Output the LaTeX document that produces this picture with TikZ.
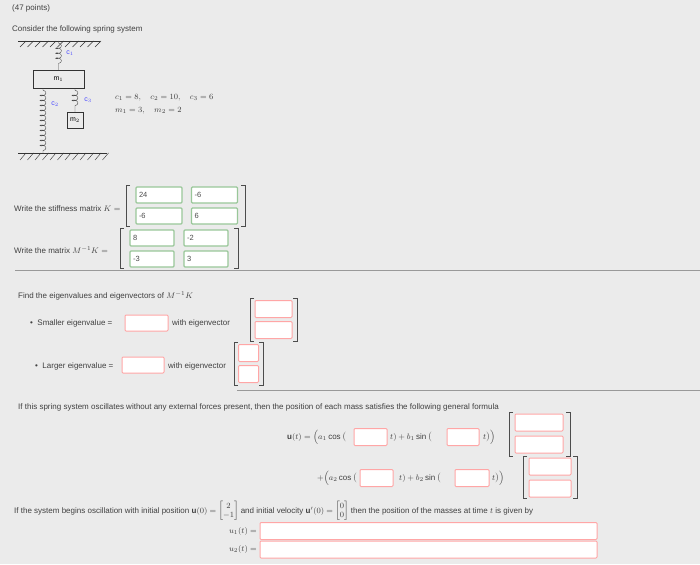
\documentclass[tikz,border=0pt]{standalone}
\usepackage{fontspec}
\setmainfont{Liberation Sans}
\usepackage{amsmath}
\usetikzlibrary{decorations.pathmorphing,patterns}
\begin{document}
\begin{tikzpicture}[x=1pt,y=-1pt,
  txt/.style={anchor=west,inner sep=0pt,text=black!75,font=\fontsize{8}{9}\selectfont},
  okbox/.style={draw=green!45!black!40,line width=1.2pt,fill=white,rounded corners=1pt,inner sep=0pt,font=\fontsize{7.5}{8}\selectfont,text=black!70},
  emptybox/.style={draw=red!35,line width=1pt,fill=white,rounded corners=1pt},
  brk/.style={draw=black!70,line width=0.7pt},
  sep/.style={draw=black!40,line width=0.6pt},
  spr/.style={decorate,decoration={coil,aspect=0.5,segment length=5pt,amplitude=3pt,pre length=2pt,post length=2pt},draw=black!70},
  lbl/.style={text=blue!70,font=\fontsize{7}{8}\selectfont,inner sep=0pt}]
\useasboundingbox (0,0) rectangle (700,564);
\fill[black!8] (0,0) rectangle (700,564);
\node[txt] (pts) at (12,8) {(47 points)};
\node[txt] (cons) at (12,29) {Consider the following spring system};
% spring diagram
\fill[white!92!black] (15,35) rectangle (112,162);
\draw[black!80,line width=0.8pt] (18,41) -- (100,41);
\foreach \i in {0,...,10} \draw[black!80] (20+\i*7.5,47) -- (26+\i*7.5,41);
\node[draw=black!80,minimum width=51pt,minimum height=18pt,inner sep=0pt] (m1) at (58.5,79) {\fontsize{7}{8}\selectfont m$_1$};
\node[draw=black!80,minimum width=16pt,minimum height=16pt,inner sep=0pt] (m2) at (75,120) {\fontsize{7}{8}\selectfont m$_2$};
\coordinate (top) at (58.5,41);
\coordinate (bot) at (43,153);
\draw[spr] (top) -- (m1.north);
\draw[spr] (m1.south -| bot) -- (bot);
\draw[spr] (m1.south -| m2.north) -- (m2.north);
\node[lbl] (lc1) at (70,53) {c$_1$};
\node[lbl] (lc2) at (55,104) {c$_2$};
\node[lbl] (lc3) at (88,100) {c$_3$};
\draw[black!80,line width=0.8pt] (18,153) -- (107,153);
\foreach \i in {0,...,11} \draw[black!80] (20+\i*7.5,160) -- (26+\i*7.5,153);
\node[txt] (par1) at (115,98) {$c_1=8,\quad c_2=10,\quad c_3=6$};
\node[txt] (par2) at (115,111) {$m_1=3,\quad m_2=2$};
% K
\node[txt] (ktxt) at (14,209) {Write the stiffness matrix $K=$};
\draw[brk] (130,185) -- (126,185) -- (126,226) -- (130,226);
\draw[brk] (241,185) -- (245,185) -- (245,226) -- (241,226);
\node[okbox,minimum width=46pt,minimum height=16pt,text width=40pt] (k11) at (159,195) {24};
\node[okbox,minimum width=46pt,minimum height=16pt,text width=40pt] (k12) at (214.5,195) {-6};
\node[okbox,minimum width=46pt,minimum height=16pt,text width=40pt] (k21) at (159,216) {-6};
\node[okbox,minimum width=46pt,minimum height=16pt,text width=40pt] (k22) at (214.5,216) {6};
% M^-1 K
\node[txt] (mtxt) at (14,250) {Write the matrix $M^{-1}K=$};
\draw[brk] (124,228) -- (120,228) -- (120,268) -- (124,268);
\draw[brk] (234,228) -- (238,228) -- (238,268) -- (234,268);
\node[okbox,minimum width=44pt,minimum height=16pt,text width=38pt] (a11) at (152,238) {8};
\node[okbox,minimum width=44pt,minimum height=16pt,text width=38pt] (a12) at (206,238) {-2};
\node[okbox,minimum width=44pt,minimum height=16pt,text width=38pt] (a21) at (152,259) {-3};
\node[okbox,minimum width=44pt,minimum height=16pt,text width=38pt] (a22) at (206,259) {3};
\draw[sep] (15,270) -- (700,270);
% eigen
\node[txt] (eig) at (18,296) {Find the eigenvalues and eigenvectors of $M^{-1}K$};
\node[txt] (sm) at (30,323) {\textbullet\ \ Smaller eigenvalue =};
\node[emptybox,minimum width=43pt,minimum height=16pt] (sv) at (146.5,323) {};
\node[txt] (we1) at (172,323) {with eigenvector};
\draw[brk] (254,298) -- (250,298) -- (250,341) -- (254,341);
\draw[brk] (293,298) -- (297,298) -- (297,341) -- (293,341);
\node[emptybox,minimum width=37pt,minimum height=17pt] (s1) at (273.5,309) {};
\node[emptybox,minimum width=37pt,minimum height=17pt] (s2) at (273.5,330) {};
\node[txt] (lg) at (35,366) {\textbullet\ \ Larger eigenvalue =};
\node[emptybox,minimum width=42pt,minimum height=16pt] (lv) at (143,365) {};
\node[txt] (we2) at (168,366) {with eigenvector};
\draw[brk] (238,342) -- (234,342) -- (234,385) -- (238,385);
\draw[brk] (259,342) -- (263,342) -- (263,385) -- (259,385);
\node[emptybox,minimum width=20pt,minimum height=17pt] (l1) at (248.5,353) {};
\node[emptybox,minimum width=20pt,minimum height=17pt] (l2) at (248.5,374) {};
\draw[sep] (237,390) -- (700,390);
% general formula
\node[txt] (gen) at (18,407) {If this spring system oscillates without any external forces present, then the position of each mass satisfies the following general formula};
\node[txt] (f1a) at (287,437) {$\mathbf{u}(t)=\Big(a_1\cos\big($};
\node[emptybox,minimum width=33pt,minimum height=17pt] (c1) at (370.5,437) {};
\node[txt] (f1b) at (390,437) {$t)+b_1\sin\big($};
\node[emptybox,minimum width=32pt,minimum height=17pt] (c2) at (463,437) {};
\node[txt] (f1c) at (483,437) {$t\big)\Big)$};
\draw[brk] (513,412) -- (509,412) -- (509,456) -- (513,456);
\draw[brk] (566,412) -- (570,412) -- (570,456) -- (566,456);
\node[emptybox,minimum width=48pt,minimum height=17pt] (v1) at (539,422.5) {};
\node[emptybox,minimum width=48pt,minimum height=17pt] (v2) at (539,444.5) {};
\node[txt] (f2a) at (317,478) {$+\Big(a_2\cos\big($};
\node[emptybox,minimum width=33pt,minimum height=17pt] (c3) at (376.5,478) {};
\node[txt] (f2b) at (399,478) {$t)+b_2\sin\big($};
\node[emptybox,minimum width=34pt,minimum height=17pt] (c4) at (472,478) {};
\node[txt] (f2c) at (492,478) {$t\big)\Big)$};
\draw[brk] (527,456) -- (523,456) -- (523,498) -- (527,498);
\draw[brk] (573,456) -- (577,456) -- (577,498) -- (573,498);
\node[emptybox,minimum width=42pt,minimum height=17pt] (w1) at (550,466.5) {};
\node[emptybox,minimum width=42pt,minimum height=17pt] (w2) at (550,488.5) {};
% bottom
\node[txt] (ini) at (14,511) {If the system begins oscillation with initial position $\mathbf{u}(0)=\begin{bmatrix}2\\-1\end{bmatrix}$ and initial velocity $\mathbf{u}'(0)=\begin{bmatrix}0\\0\end{bmatrix}$ then the position of the masses at time $t$ is given by};
\node[txt,anchor=east] (u1) at (257,531) {$u_1(t)=$};
\node[txt,anchor=east] (u2) at (257,549) {$u_2(t)=$};
\node[emptybox,minimum width=337pt,minimum height=17pt] (b1) at (428.5,531) {};
\node[emptybox,minimum width=337pt,minimum height=17pt] (b2) at (428.5,549.5) {};
\end{tikzpicture}
\end{document}
